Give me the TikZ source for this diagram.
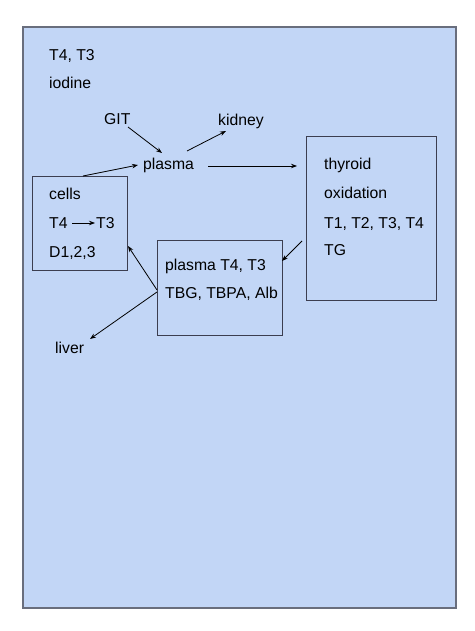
\documentclass[tikz,border=0pt]{standalone}
\usepackage{fontspec}
\setmainfont{Liberation Sans}
\usetikzlibrary{arrows.meta}
\definecolor{bgblue}{RGB}{194,214,246}
\definecolor{bgedge}{RGB}{105,110,125}
\definecolor{boxedge}{RGB}{60,62,80}
\tikzset{
  lbl/.style={anchor=base west, inner sep=0pt, font=\fontsize{15.75}{18}\selectfont, text=black},
  boxnode/.style={draw=boxedge, line width=0.9pt, inner sep=0pt},
  arr/.style={-{Stealth[length=6pt,width=4.5pt]}, line width=0.8pt, black},
}
\begin{document}
\begin{tikzpicture}[x=1pt,y=-1pt]
\useasboundingbox (0,0) rectangle (474,631);
\fill[white] (0,0) rectangle (474,631);
% background panel
\node[draw=bgedge, fill=bgblue, line width=1.1pt, inner sep=0pt, minimum width=433pt, minimum height=581pt] (panel) at (239.5,317.5) {};
% boxes
\node[boxnode, minimum width=95pt, minimum height=94pt] (cellsbox) at (79.5,223) {};
\node[boxnode, minimum width=125pt, minimum height=95pt] (plbox) at (219.5,287.5) {};
\node[boxnode, minimum width=130pt, minimum height=164pt] (thybox) at (371,218) {};
% texts
\node[lbl] (t4t3) at (49,61) {T4, T3};
\node[lbl] (iodine) at (49,89) {iodine};
\node[lbl] (git) at (104,125) {GIT};
\node[lbl] (kidney) at (218,126) {kidney};
\node[lbl] (plasma) at (143,170) {plasma};
\node[lbl] (cells) at (49,199) {cells};
\node[lbl] (t4) at (49,228) {T4};
\node[lbl] (t3) at (96,228) {T3};
\node[lbl] (d123) at (49,257) {D1,2,3};
\node[lbl] (plt4) at (165,270) {plasma T4, T3};
\node[lbl] (tbg) at (165,298) {TBG, TBPA, Alb};
\node[lbl] (liver) at (55,353) {liver};
\node[lbl] (thyroid) at (324,170) {thyroid};
\node[lbl] (oxid) at (324,198) {oxidation};
\node[lbl] (t1234) at (324,228) {T1, T2, T3, T4};
\node[lbl] (tg) at (324,255) {TG};
% connector end points
\coordinate (gitS) at (128,127);
\coordinate (plN) at (162,153);
\coordinate (plNE) at (187,151);
\coordinate (kidSW) at (226,131);
\coordinate (cellsTop) at (83,176);
\coordinate (plW) at (138,165);
\coordinate (plE) at (208,166);
\coordinate (thyW) at (297,166);
\coordinate (t4E) at (72,223);
\coordinate (t3W) at (95,223);
\coordinate (thyL) at (302,241);
\coordinate (plboxNE) at (282,261);
\coordinate (plboxW) at (157,290);
\coordinate (cellsR) at (128,246);
\coordinate (plboxW2) at (157,292);
\coordinate (liverNE) at (90,339);
% connectors
\draw[arr] (gitS) -- (plN);
\draw[arr] (plNE) -- (kidSW);
\draw[arr] (cellsTop) -- (plW);
\draw[arr] (plE) -- (thyW);
\draw[arr] (t4E) -- (t3W);
\draw[arr] (thyL) -- (plboxNE);
\draw[arr] (plboxW) -- (cellsR);
\draw[arr] (plboxW2) -- (liverNE);
\end{tikzpicture}
\end{document}
